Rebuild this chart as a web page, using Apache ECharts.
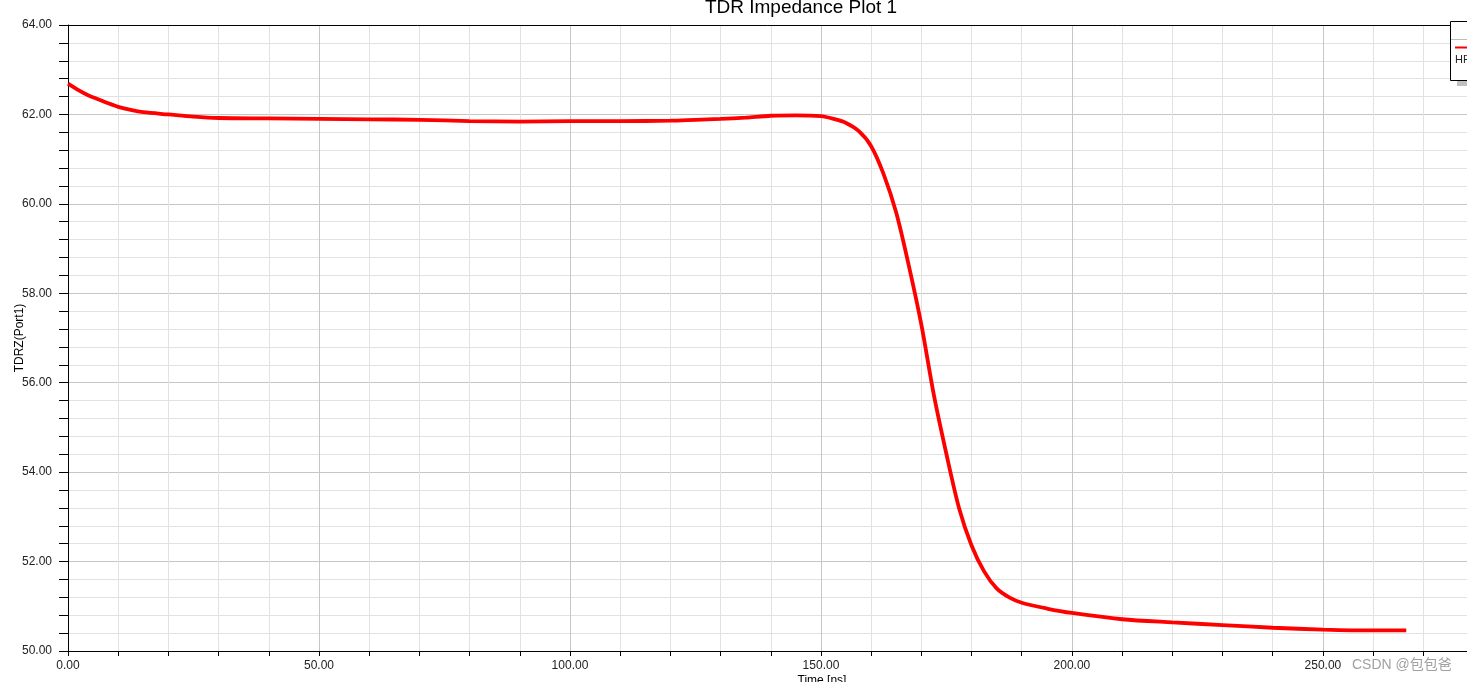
<!DOCTYPE html>
<html>
<head>
<meta charset="utf-8">
<script src="https://cdn.jsdelivr.net/npm/echarts@6/dist/echarts.min.js"></script>
<style>
html,body{margin:0;padding:0;background:#fff;}
#chart{width:1467px;height:682px;}
</style>
</head>
<body>
<div id="chart"></div>
<script>
// ---- data ----
const timePs = [0, 2, 4, 6, 8, 10, 12.5, 15, 20, 25, 30, 40, 50, 60, 70, 80, 90, 100, 110, 120,
  125, 130, 135, 140, 145, 150, 152.5, 155, 157.5, 160, 162.5, 165, 167.5, 170, 172.5, 175,
  177.5, 180, 182.5, 185, 187.5, 190, 195, 200, 210, 220, 230, 240, 250, 260, 266.6];
const tdrz = [62.69, 62.55, 62.43, 62.34, 62.25, 62.17, 62.10, 62.05, 62.00, 61.95, 61.92, 61.91,
  61.90, 61.89, 61.88, 61.85, 61.84, 61.85, 61.85, 61.86,
  61.88, 61.90, 61.93, 61.97, 61.98, 61.96, 61.90, 61.81, 61.63, 61.29, 60.66, 59.80, 58.62,
  57.30, 55.72, 54.40, 53.20, 52.36, 51.78, 51.40, 51.20, 51.08, 50.95, 50.85, 50.71, 50.64,
  50.58, 50.52, 50.48, 50.46, 50.46];
const seriesName = 'HFSSDesign1';
const titleText = 'TDR Impedance Plot 1';
const xName = 'Time [ns]';
const yName = 'TDRZ(Port1)';
const xLabelStep = 50;   // labelled x ticks
const yLabelStep = 2;    // labelled y ticks

const chart = echarts.init(document.getElementById('chart'), null, {renderer: 'canvas'});
const font = 'Liberation Sans, Arial, sans-serif';
const major = '#c6c6c6', minor = '#e2e2e2';
const cyc = [major, minor, minor, minor, minor];

const isMult = (v, s) => Math.abs(v / s - Math.round(v / s)) < 1e-6;

chart.setOption({
  animation: false,
  backgroundColor: '#fff',
  textStyle: {fontFamily: font},
  title: {
    text: titleText, left: 796, top: -7, textAlign: 'center',
    textStyle: {fontSize: 19, fontWeight: 'normal', color: '#000', fontFamily: font}
  },
  grid: {left: 68, top: 25, width: 1400, height: 626, containLabel: false, outerBoundsMode: 'none'},
  xAxis: [{
    type: 'value', min: 0, max: 278.9, interval: 10,
    name: xName, nameLocation: 'middle', nameGap: 24, nameMoveOverlap: false,
    nameTextStyle: {fontSize: 12, color: '#000', fontFamily: font, padding: [0, 0, 0, 108]},
    axisLine: {show: true, onZero: false, lineStyle: {color: '#000', width: 1}},
    axisTick: {show: true, length: 5, lineStyle: {color: '#000'}},
    axisLabel: {
      show: true, margin: 9, fontSize: 12, color: '#222', fontFamily: font,
      showMaxLabel: false,
      formatter: v => isMult(v, xLabelStep) ? v.toFixed(2) : ''
    },
    splitLine: {show: true, lineStyle: {color: cyc, width: 1}}
  }, {
    type: 'value', min: 0, max: 278.9, interval: 10, position: 'top',
    axisLine: {show: true, onZero: false, lineStyle: {color: '#000', width: 1}},
    axisTick: {show: false}, axisLabel: {show: false}, splitLine: {show: false}
  }],
  yAxis: [{
    type: 'value', min: 50, max: 64, interval: 0.4,
    name: yName, nameLocation: 'middle', nameGap: 42, nameRotate: 90, nameMoveOverlap: false,
    nameTextStyle: {fontSize: 12, color: '#000', fontFamily: font},
    axisLine: {show: true, onZero: false, lineStyle: {color: '#000', width: 1}},
    axisTick: {show: true, length: 9, lineStyle: {color: '#000'}},
    axisLabel: {
      show: true, margin: 16, fontSize: 12, color: '#222', fontFamily: font,
      formatter: v => isMult(v, yLabelStep) ? v.toFixed(2) : ''
    },
    splitLine: {show: true, lineStyle: {color: cyc, width: 1}}
  }],
  series: [{
    name: seriesName, type: 'line', xAxisIndex: 0, yAxisIndex: 0,
    data: timePs.map((t, i) => [t, tdrz[i]]),
    showSymbol: false, symbol: 'none', smooth: 0.3,
    lineStyle: {color: '#ff0000', width: 3.8},
    itemStyle: {color: '#ff0000'}, z: 5
  }],
  graphic: [
    {type: 'rect', shape: {x: 1457, y: 27, width: 40, height: 59}, style: {fill: '#c0c0c0'}, z: 10},
    {type: 'rect', shape: {x: 1450.5, y: 21.5, width: 40, height: 59}, style: {fill: '#fff', stroke: '#000', lineWidth: 1}, z: 11},
    {type: 'line', shape: {x1: 1451, y1: 39.5, x2: 1467, y2: 39.5}, style: {stroke: '#bdbdbd', lineWidth: 1}, z: 12},
    {type: 'line', shape: {x1: 1455, y1: 47.5, x2: 1467, y2: 47.5}, style: {stroke: '#ff0000', lineWidth: 2}, z: 12},
    {type: 'text', x: 1455, y: 60, style: {text: seriesName, fontSize: 11, fill: '#222', font: '11px Liberation Sans', textVerticalAlign: 'middle'}, z: 12},
    {type: 'text', x: 1352, y: 665, style: {text: 'CSDN @包包爸', fill: '#a0a0a0', font: '14px Liberation Sans, Noto Sans CJK SC', textVerticalAlign: 'middle'}, z: 12}
  ]
});
</script>
</body>
</html>
